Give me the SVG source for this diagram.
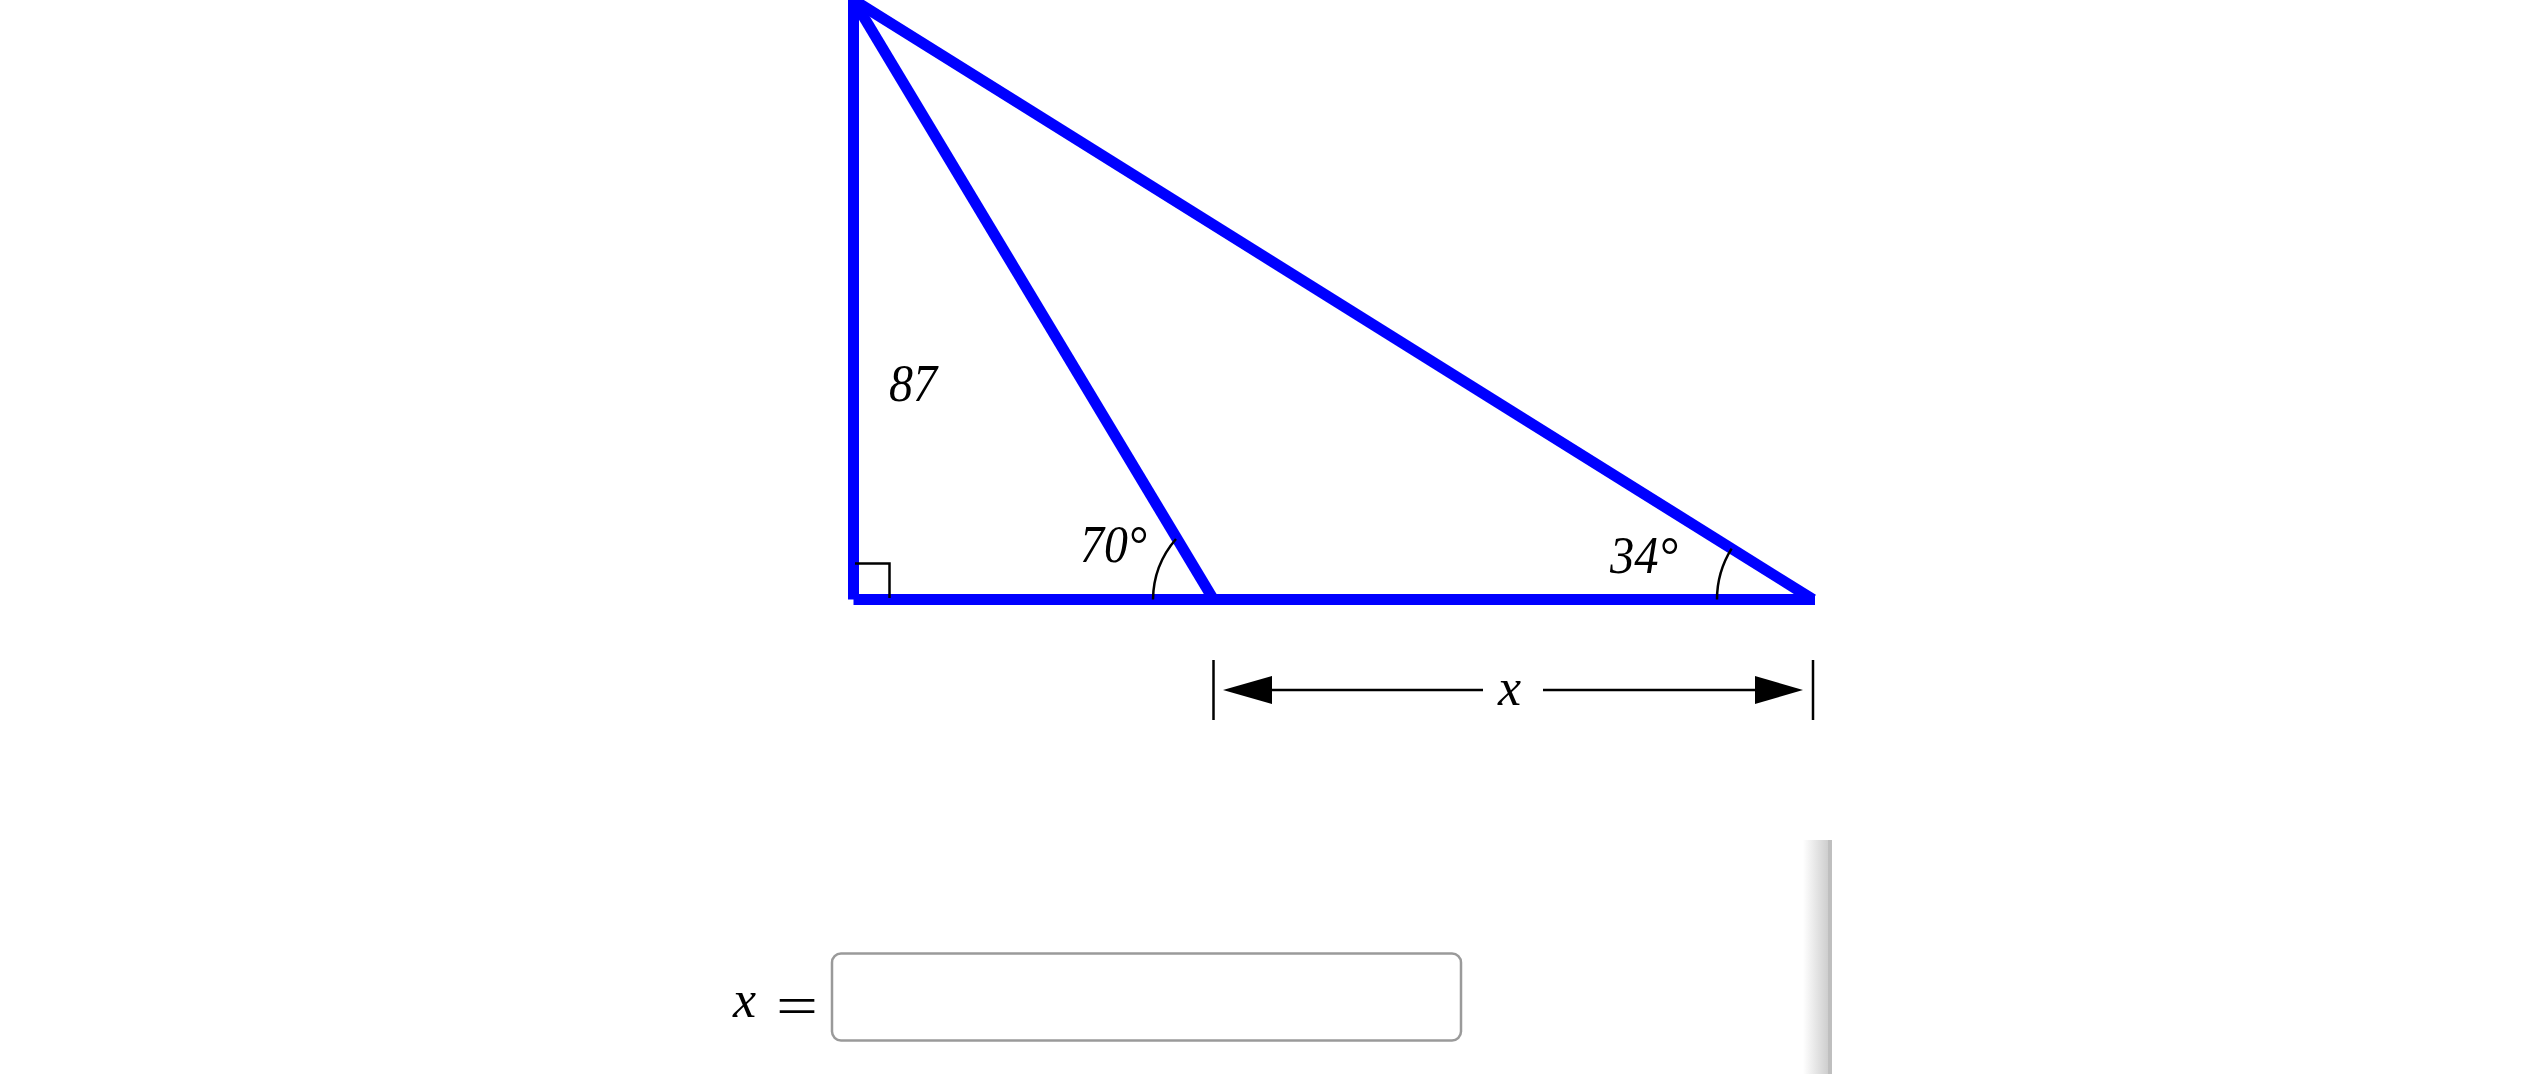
<svg xmlns="http://www.w3.org/2000/svg" width="2532" height="1074" viewBox="0 0 2532 1074">
<defs>
<style>
.edge{stroke:#0000ff;stroke-width:11;fill:none;stroke-linecap:butt}
.thin{stroke:#000;stroke-width:2.5;fill:none}
.lbl{font-family:"Liberation Serif","Times New Roman",serif;font-style:italic;font-size:52px;fill:#000}
.math{font-family:"Liberation Serif","Times New Roman",serif;font-size:56px;fill:#000}
</style>
<linearGradient id="sb" x1="0" y1="0" x2="1" y2="0">
<stop offset="0" stop-color="#ffffff"/>
<stop offset="0.85" stop-color="#cfcfcf"/>
<stop offset="0.86" stop-color="#bfbfbf"/>
<stop offset="1" stop-color="#bfbfbf"/>
</linearGradient>
</defs>
<rect width="2532" height="1074" fill="#ffffff"/>
<g id="connectors">
<line class="edge" x1="853.5" y1="-6" x2="853.5" y2="599.5"/>
<line class="edge" x1="853.5" y1="599.5" x2="1815" y2="599.5"/>
<line class="edge" x1="853.5" y1="0" x2="1213.5" y2="599.5"/>
<line class="edge" x1="853.5" y1="0" x2="1813" y2="599.5"/>
</g>
<g id="right-angle">
<polyline class="thin" stroke-width="2" points="855,563.5 889.5,563.5 889.5,598"/>
</g>
<g id="angle-70">
<path class="thin" d="M1153,599.5 A94,94 0 0 1 1176,539"/>
<text class="lbl" x="1080" y="562" textLength="67" lengthAdjust="spacingAndGlyphs">70°</text>
</g>
<g id="angle-34">
<path class="thin" d="M1717,599.5 A96,96 0 0 1 1731.6,548.6"/>
<text class="lbl" x="1610" y="573" textLength="68" lengthAdjust="spacingAndGlyphs">34°</text>
</g>
<g id="side-87">
<text class="lbl" x="889" y="401" textLength="48" lengthAdjust="spacingAndGlyphs">87</text>
</g>
<g id="dimension-x">
<line class="thin" x1="1213.5" y1="660" x2="1213.5" y2="720"/>
<line class="thin" x1="1813" y1="660" x2="1813" y2="720"/>
<line class="thin" x1="1265" y1="690" x2="1483" y2="690"/>
<line class="thin" x1="1543" y1="690" x2="1762" y2="690"/>
<polygon points="1223,690 1272,676 1272,704" fill="#000"/>
<polygon points="1803,690 1755,676 1755,704" fill="#000"/>
<text class="lbl" x="1498" y="705">x</text>
</g>
<g id="answer">
<text class="lbl" x="733" y="1017">x</text>
<text class="math" x="776" y="1025" textLength="42" lengthAdjust="spacingAndGlyphs">=</text>
<rect x="832" y="953.5" width="629" height="87" rx="9" ry="9" fill="#fff" stroke="#9a9a9a" stroke-width="2.5"/>
</g>
<g id="scrollbar">
<rect x="1803" y="840" width="29" height="234" fill="url(#sb)"/>
</g>
</svg>
